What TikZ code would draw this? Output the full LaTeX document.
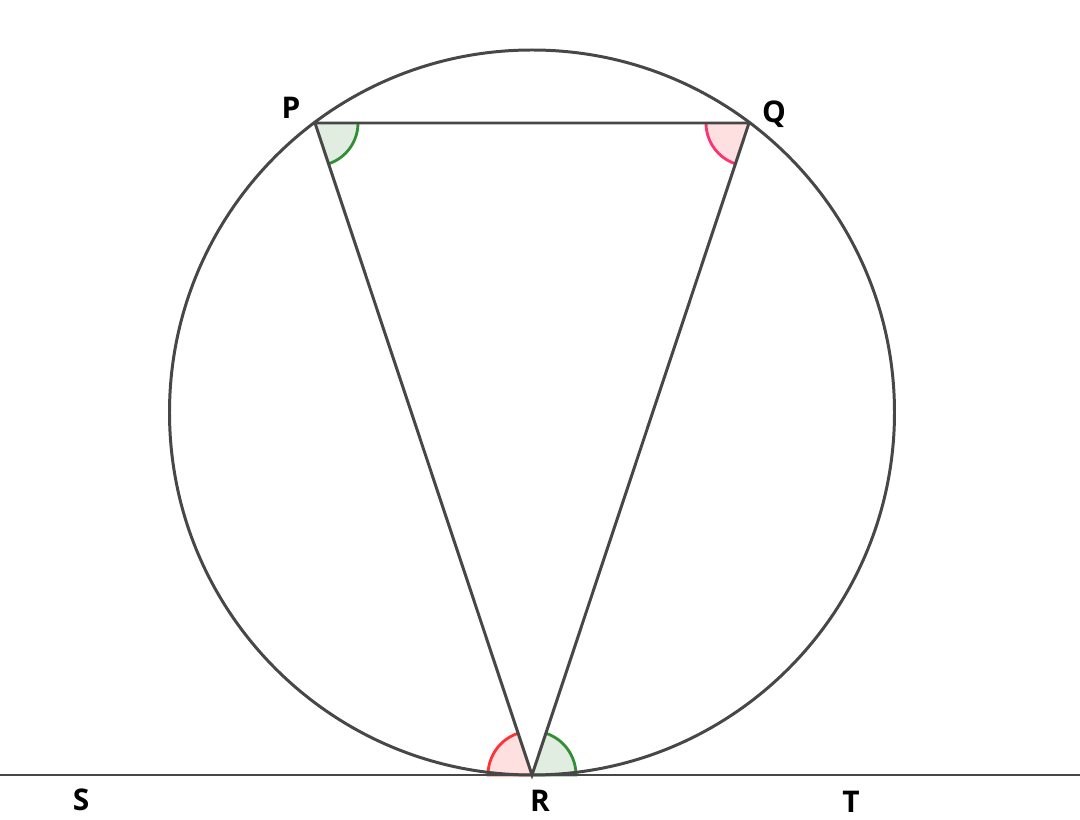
\documentclass[tikz,border=0pt]{standalone}
\usepackage{fontspec}
\setmainfont{Open Sans}
\begin{document}
\begin{tikzpicture}[x=0.02cm,y=-0.02cm,
  geo/.style={line width=1.7pt,draw=black!72},
  greenang/.style={fill=green!40!black!12,draw=none},
  redang/.style={fill=red!12,draw=none},
  greenarc/.style={line width=1.6pt,draw=green!45!black!80},
  redarc/.style={line width=1.6pt,draw=red!80},
  pinkarc/.style={line width=1.6pt,draw=red!70!magenta!80},
  lbl/.style={font=\fontsize{17}{19}\selectfont\bfseries,text=black}]
\useasboundingbox (0,0) rectangle (1080,820);
\coordinate (O) at (532,412.5);
\coordinate (P) at (315,123);
\coordinate (Q) at (749,123);
\coordinate (R) at (532,775);
\coordinate (Sl) at (0,775);
\coordinate (Tr) at (1080,775);
% angle sectors
\fill[greenang] (P) -- ++(0:43) arc[start angle=0,end angle=71.6,radius=43] -- cycle;
\draw[greenarc] (P) ++(0:43) arc[start angle=0,end angle=71.6,radius=43];
\fill[redang] (Q) -- ++(180:43) arc[start angle=180,end angle=108.4,radius=43] -- cycle;
\draw[pinkarc] (Q) ++(180:43) arc[start angle=180,end angle=108.4,radius=43];
\fill[redang] (R) -- ++(-108.4:44) arc[start angle=-108.4,end angle=-180,radius=44] -- cycle;
\draw[redarc] (R) ++(-108.4:44) arc[start angle=-108.4,end angle=-180,radius=44] -- (R);
\fill[greenang] (R) -- ++(0:44) arc[start angle=0,end angle=-71.6,radius=44] -- cycle;
\draw[greenarc] (R) -- ++(0:44) arc[start angle=0,end angle=-71.6,radius=44];
% main figure
\draw[geo] (O) circle[radius=362.5];
\draw[geo] (Sl) -- (Tr);
\draw[geo] (P) -- (Q) -- (R) -- cycle;
% labels
\node[lbl] (lP) at (291,108) {P};
\node[lbl] (lQ) at (774,114) {Q};
\node[lbl] (lR) at (540,801) {R};
\node[lbl] (lS) at (81,800) {S};
\node[lbl] (lT) at (851,802) {T};
\end{tikzpicture}
\end{document}
